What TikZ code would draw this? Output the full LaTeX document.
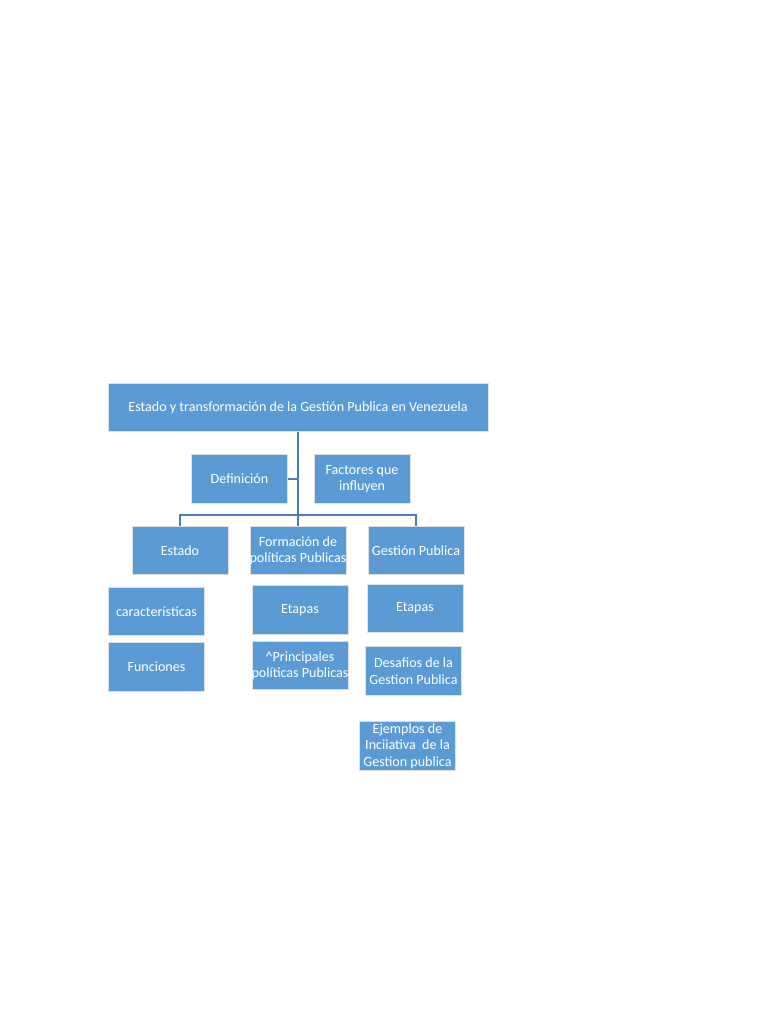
\documentclass[tikz,border=0pt]{standalone}
\usepackage{fontspec}
\setmainfont{Carlito}
\definecolor{cajaazul}{HTML}{5B9BD5}
\definecolor{lineaazul}{HTML}{4A7EBB}
\tikzset{
  caja/.style={fill=cajaazul, draw=gray!25, line width=0.6pt, text=white,
    minimum width=2.88cm, minimum height=1.46cm,
    align=center, inner sep=1pt, font=\fontsize{12}{14}\selectfont},
  conector/.style={draw=lineaazul, line width=1.1pt}
}
\begin{document}
\begin{tikzpicture}[x=0.03cm, y=-0.03cm]
        \useasboundingbox[fill=white] (0,0) rectangle (768,1024);

        % Título
        \node[caja, minimum width=11.4cm] (titulo) at (298,407.5) {Estado y transformación de la Gestión Publica en Venezuela};

        % segundo nivel
        \node[caja] (definicion) at (239.5,479) {Definición};
        \node[caja] (factores) at (362,479) {Factores que\\influyen};

        % ramas
        \node[caja] (estado) at (180,550.5) {Estado};
        \node[caja] (formacion) at (298,550.5) {Formación de\\\makebox[2.7cm]{políticas Publicas}};
        \node[caja] (gestion) at (416,550.5) {Gestión Publica};

        % columna Estado
        \node[caja] (caracteristicas) at (156.5,611.5) {características};
        \node[caja] (funciones) at (156.5,667) {Funciones};

        % columna Formación
        \node[caja] (etapasF) at (300,610) {Etapas};
        \node[caja] (principales) at (300,665.5) {\^{}Principales\\\makebox[2.7cm]{políticas Publicas}};

        % columna Gestión
        \node[caja] (etapasG) at (415,608.5) {Etapas};
        \node[caja] (desafios) at (413.5,671) {Desafios de la\\Gestion Publica};
        \node[caja] (ejemplos) at (407.5,746) {Ejemplos de\\Inciiativa~ de la\\Gestion publica};

        % conectores
        \coordinate (reparto) at (298,515);
        \draw[conector] (titulo.south) -- (reparto);
        \draw[conector] (definicion.east) -- (definicion.east -| titulo.south);
        \draw[conector] (estado.north) |- (reparto) -| (gestion.north);
        \draw[conector] (reparto) -- (formacion.north);

\end{tikzpicture}
\end{document}
